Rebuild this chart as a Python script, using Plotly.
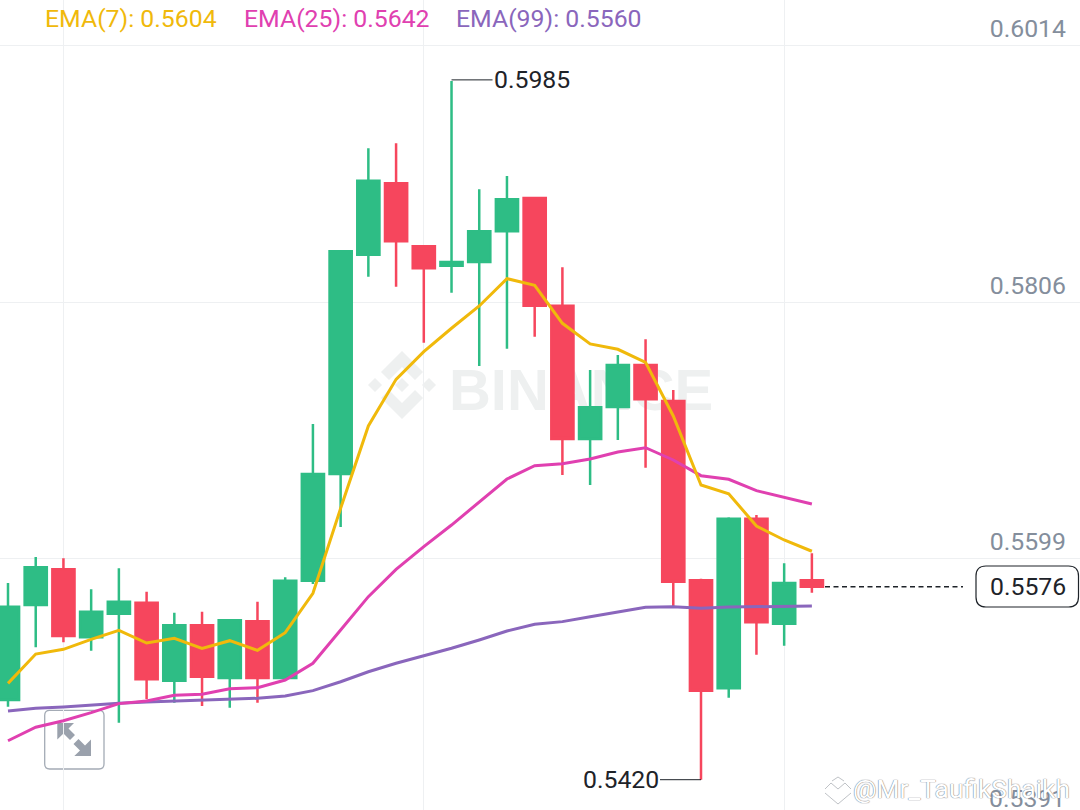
import plotly.graph_objects as go

W, H = 1080, 810

candles = list(range(30))
opens = [.54844, .55613, .55901, .55351, .55542, .55631, .55001, .55448, .55022, .55481,
         .55022, .55809, .56672, .58445, .59022, .58513, .58356, .58386, .58634, .58903,
         .58032, .56955, .57213, .57553, .57262, .55812, .54939, .56310, .55461, .55812]
highs = [.55790, .56001, .55990, .55739, .55909, .55720, .55550, .55558, .55497, .55639,
         .55837, .57076, .58483, .59305, .59345, .58515, .59850, .58974, .59081, .58914,
         .58343, .57513, .57634, .57761, .57351, .55825, .56322, .56340, .55950, .56031]
lows = [.54790, .55271, .55311, .55243, .54661, .54850, .54823, .54796, .54782, .54823,
        .55018, .55782, .56243, .58267, .58186, .57733, .58138, .57545, .57685, .57782,
        .56664, .56583, .56947, .56723, .55599, .54200, .54863, .55211, .55284, .55712]
closes = [.55599, .55917, .55362, .55558, .55639, .55012, .55448, .55033, .55489, .55022,
          .55809, .56672, .58472, .59043, .58553, .58335, .58386, .58634, .58893, .58032,
          .56955, .57211, .57553, .57276, .55801, .54920, .56310, .55473, .55790, .55760]

ema7 = [.54979, .55216, .55254, .55335, .55408, .55305, .55343, .55262, .55324, .55246,
        .55389, .55707, .56394, .57060, .57437, .57661, .57850, .58030, .58251, .58197,
        .57890, .57723, .57680, .57575, .57141, .56583, .56512, .56251, .56138, .56047]
ema25 = [.54515, .54624, .54677, .54742, .54815, .54836, .54883, .54891, .54936, .54944,
         .55006, .55141, .55410, .55680, .55901, .56084, .56259, .56448, .56631, .56739,
         .56755, .56793, .56850, .56884, .56785, .56658, .56629, .56537, .56480, .56429]
ema99 = [.54756, .54777, .54788, .54804, .54818, .54828, .54836, .54844, .54853, .54858,
         .54877, .54920, .54992, .55073, .55141, .55200, .55263, .55330, .55402, .55457,
         .55478, .55518, .55558, .55594, .55599, .55586, .55596, .55599, .55599, .55604]

grid_values = [0.6014, 0.5806, 0.5599]
grid_labels = ["0.6014", "0.5806", "0.5599"]
bottom_label = "0.5391"
grid_candles = [2, 15, 28]
high_value, high_index = 0.5985, 16
low_value, low_index = 0.5420, 25
last_price = 0.5576
legend_items = [("EMA(7): 0.5604", "#F0B90B", 43.5), ("EMA(25): 0.5642", "#E040B0", 242.5), ("EMA(99): 0.5560", "#8A66BC", 455)]

GREEN, RED = "#2EBD85", "#F6465D"
FONT = "Roboto"
INK = "#1E2329"
AXIS = "#848E9C"
MARK = "#EEF0F0"


def px(x):
    return x / W


def py(y):
    return 1 - y / H


def poly(points):
    return "M" + " L".join(f"{px(x)},{py(y)}" for x, y in points) + " Z"


def rrect(x0, y0, x1, y1, r):
    X0, X1, Y0, Y1 = px(x0), px(x1), py(y0), py(y1)
    rx, ry = r / W, r / H
    return (f"M{X0+rx},{Y0} L{X1-rx},{Y0} Q{X1},{Y0} {X1},{Y0-ry} L{X1},{Y1+ry} Q{X1},{Y1} {X1-rx},{Y1} "
            f"L{X0+rx},{Y1} Q{X0},{Y1} {X0},{Y1+ry} L{X0},{Y0-ry} Q{X0},{Y0} {X0+rx},{Y0} Z")


fig = go.Figure()
fig.add_trace(go.Candlestick(
    x=candles, open=opens, high=highs, low=lows, close=closes, whiskerwidth=0,
    increasing=dict(line=dict(color=GREEN, width=2.5), fillcolor=GREEN),
    decreasing=dict(line=dict(color=RED, width=2.5), fillcolor=RED),
    showlegend=False, hoverinfo="skip",
))
for vals, col in ((ema99, "#8A66BC"), (ema25, "#E040B0"), (ema7, "#F0B90B")):
    fig.add_trace(go.Scatter(x=candles, y=vals, mode="lines", line=dict(color=col, width=3),
                             showlegend=False, hoverinfo="skip"))

shapes = []
# watermark logo
cx, cy = 402, 385
for dx in (-27, 0, 27):
    shapes.append(dict(type="path", xref="paper", yref="paper", layer="below", line_width=0, fillcolor=MARK,
                       path=poly([(cx+dx, cy-7), (cx+dx+7, cy), (cx+dx, cy+7), (cx+dx-7, cy)])))
for s in (-1, 1):
    shapes.append(dict(type="path", xref="paper", yref="paper", layer="below", line_width=0, fillcolor=MARK,
                       path=poly([(cx, cy+s*34), (cx+21, cy+s*13), (cx+13, cy+s*5), (cx, cy+s*18),
                                  (cx-13, cy+s*5), (cx-21, cy+s*13)])))
# watermark word, below the candles
shapes.append(dict(type="rect", xref="paper", yref="paper", layer="below", line_width=0,
                   fillcolor="rgba(0,0,0,0)", x0=px(440), x1=px(722), y0=py(414), y1=py(354),
                   label=dict(text="BINANCE", textposition="middle center",
                              font=dict(family="Liberation Sans", size=58, color=MARK, weight="bold"))))
# expand button
shapes.append(dict(type="path", xref="paper", yref="paper", layer="below", fillcolor="rgba(255,255,255,0.6)",
                   line=dict(color="#A4ABB5", width=1.3), path=rrect(44.7, 710.3, 104, 769, 5)))
shapes.append(dict(type="path", xref="paper", yref="paper", layer="below", line_width=0, fillcolor="#9AA1AC",
                   path=poly([(57.3, 723), (74, 723), (68.5, 728.5), (75, 735), (70, 740), (63.5, 733.5), (57.3, 739.5)])))
shapes.append(dict(type="path", xref="paper", yref="paper", layer="below", line_width=0, fillcolor="#9AA1AC",
                   path=poly([(91, 756), (74.3, 756), (80, 750.5), (73.5, 744), (78.5, 739), (85, 745.5), (91, 739.5)])))
# last price dash and box
shapes.append(dict(type="line", xref="paper", yref="y", x0=px(825), x1=px(963), y0=last_price, y1=last_price,
                   line=dict(color=INK, width=1.3, dash="5px,3.5px")))
shapes.append(dict(type="path", xref="paper", yref="paper", fillcolor="white", line=dict(color=INK, width=1.2),
                   path=rrect(976, 566, 1078.5, 607, 10)))
# small author mark
for pts in ([(825, 789), (831, 783), (838, 789), (845, 783), (851, 789)], [(832, 781), (838, 777), (844, 781)],
            [(825, 793), (838, 804), (851, 793)]):
    shapes.append(dict(type="path", xref="paper", yref="paper", fillcolor="rgba(0,0,0,0)",
                       line=dict(color="#BFC2C6", width=1),
                       path="M" + " L".join(f"{px(x)},{py(y)}" for x, y in pts)))

ann = []
for text, col, x in legend_items:
    ann.append(dict(text=text, xref="paper", yref="paper", x=px(x), y=py(18.5), xanchor="left", yanchor="middle",
                    showarrow=False, borderpad=0, font=dict(family=FONT, size=24.8, color=col)))
ann.append(dict(text=bottom_label, xref="paper", yref="paper", x=px(1066), y=py(798.5), xanchor="right", yanchor="middle",
                showarrow=False, borderpad=0, font=dict(family=FONT, size=24.8, color=AXIS)))
ann.append(dict(text="@Mr_TaufikShaikh", xref="paper", yref="paper", x=px(1071), y=py(789), xanchor="right", yanchor="middle",
                showarrow=False, borderpad=0,
                font=dict(family=FONT, size=26.3, color="#FFFFFF", shadow="0px 0px 1px #777A80, 0px 0px 1px #777A80")))
ann.append(dict(text=f"{last_price:.4f}", xref="paper", yref="y", x=px(1028), y=last_price, xanchor="center", yanchor="middle",
                showarrow=False, borderpad=0, font=dict(family=FONT, size=24.8, color=INK)))
ann.append(dict(text=f"{high_value:.4f}", x=high_index, y=high_value, ax=41, ay=0, yshift=1, xanchor="left", yanchor="middle",
                showarrow=True, arrowhead=0, arrowwidth=1, arrowcolor=INK, standoff=0, borderpad=0,
                font=dict(family=FONT, size=24.8, color=INK)))
ann.append(dict(text=f"{low_value:.4f}", x=low_index, y=low_value, ax=-41, ay=0, xanchor="right", yanchor="middle",
                showarrow=True, arrowhead=0, arrowwidth=1, arrowcolor=INK, standoff=0, borderpad=0,
                font=dict(family=FONT, size=24.8, color=INK)))

fig.update_layout(
    width=W, height=H, margin=dict(l=0, r=0, t=0, b=0), paper_bgcolor="white", plot_bgcolor="white",
    boxgap=0.2, boxgroupgap=0, showlegend=False, shapes=shapes, annotations=ann,
    xaxis=dict(range=[(0 - 8) / 27.72, (W - 8) / 27.72], rangeslider=dict(visible=False), tickvals=grid_candles,
               showticklabels=False, showgrid=True, gridcolor="#EEF0F2", gridwidth=1, zeroline=False, ticks="",
               showline=False),
    yaxis=dict(range=[0.53955, 0.60504], side="right", tickvals=grid_values, ticktext=grid_labels,
               ticklabelposition="inside", ticklabelshift=-17, ticklabelstandoff=11, ticks="",
               tickfont=dict(family=FONT, size=24.8, color=AXIS), showgrid=True, gridcolor="#EEF0F2",
               gridwidth=1, zeroline=False, showline=False),
)
fig.write_html("out.html", config=dict(displayModeBar=False),
               post_script="document.body.style.margin='0';document.body.style.overflow='hidden';window.dispatchEvent(new Event('resize'));")
